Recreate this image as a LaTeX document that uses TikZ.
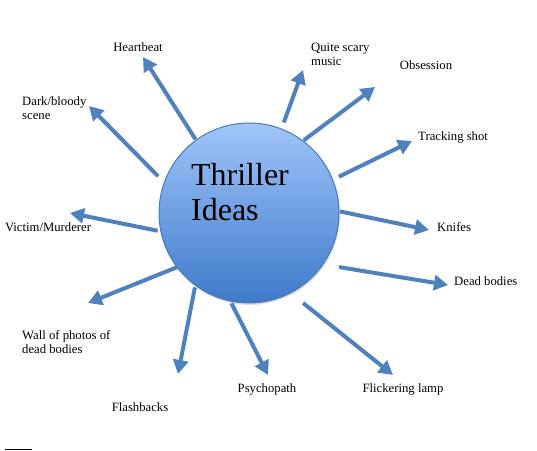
\documentclass[tikz,border=0pt]{standalone}
\usepackage{fontspec}
\setmainfont{Liberation Serif}
\usetikzlibrary{arrows.meta, calc, positioning, shadows}
\definecolor{spokeblue}{RGB}{79,129,189}
\definecolor{balltop}{RGB}{160,197,250}
\definecolor{ballbottom}{RGB}{62,122,202}
\definecolor{ballrim}{RGB}{72,122,186}

\begin{document}
\begin{tikzpicture}[x=1pt, y=1pt, >={Triangle[length=14pt, width=15pt]}]
    \tikzstyle{ball}=[circle, draw=ballrim, line width=1pt, top color=balltop, bottom color=ballbottom, minimum size=180pt, inner sep=0pt, drop shadow={opacity=0.25, shadow xshift=1pt, shadow yshift=-2pt}]
    \tikzstyle{spoke}=[->, draw=spokeblue, line width=4pt]
    \tikzstyle{idea}=[font=\fontsize{12.7}{14}\selectfont, align=left, inner sep=0pt]

    \useasboundingbox (0,0) rectangle (537,450);

    % Draw the central circle
    \node[ball] (T) at (249,237) {};
    \node[font=\fontsize{32}{35}\selectfont, align=left] (title) at (240,258) {Thriller\\Ideas};

    % Tips of the spokes
    \foreach \name/\x/\y in {hb/143/393, dark/89/344, victim/70/237, quite/303/380, obs/375/363, track/412/309,
                             knife/429/220, dead/448/165, flick/393/75, psycho/268/75, flash/178/76, wall/88/147}
    \coordinate (tip-\name) at (\x,\y);

    % Draw the spokes out of the circle
    \foreach \name/\a/\r in {hb/126/91, dark/158/98, victim/191/93, quite/69/97, obs/53/91, track/22/97,
                             knife/1/91, dead/-31/105, flick/-59/105, psycho/-101/92, flash/-126/92, wall/-143/90}
    \draw[spoke] ($(T.center)+(\a:\r pt)$) -- (tip-\name);

    % Annotate the spokes
    \node[idea] (l-hb) at (138,403) {Heartbeat};
    \node[idea, anchor=west] (l-dark) at (22,342) {Dark/bloody\\scene};
    \node[idea] (l-victim) at (48,223) {Victim/Murderer};
    \node[idea, anchor=west] (l-quite) at (311,396) {Quite scary\\music};
    \node[idea] (l-obs) at (426,385) {Obsession};
    \node[idea, anchor=west] (l-track) at (418,313) {Tracking shot};
    \node[idea, anchor=west] (l-knife) at (437,223) {Knifes};
    \node[idea, anchor=west] (l-dead) at (454,169) {Dead bodies};
    \node[idea] (l-flick) at (403,61) {Flickering lamp};
    \node[idea] (l-psycho) at (267,61) {Psychopath};
    \node[idea] (l-flash) at (140,43) {Flashbacks};
    \node[idea, anchor=west] (l-wall) at (22,108) {Wall of photos of\\dead bodies};

    % Rule at the foot of the page
    \draw[black, line width=0.8pt] (5,1) -- (32,1);
\end{tikzpicture}
\end{document}
